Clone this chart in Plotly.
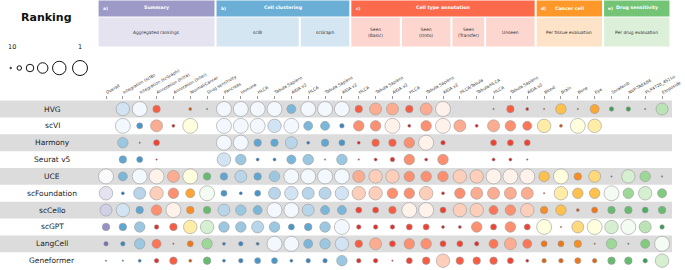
import plotly.graph_objects as go
from plotly.colors import sequential, sample_colorscale

N = None
methods = ["HVG", "scVI", "Harmony", "Seurat v5", "UCE", "scFoundation",
           "scCello", "scGPT", "LangCell", "Geneformer"]
columns = ["Overall", "Integration (scIB)", "Integration (scGraph)", "Annotation (Intra)",
           "Annotation (Inter)", "Normal/Cancer", "Drug sensitivity",
           "Pancreas", "Immune", "HLCA", "Tabula Sapiens", "AIDA v2",
           "HLCA", "Tabula Sapiens", "AIDA v2",
           "HLCA", "Tabula Sapiens", "AIDA v2",
           "HLCA", "Tabula Sapiens", "AIDA v2",
           "HLCA/Tabula", "Tabula/HLCA",
           "HLCA", "Tabula Sapiens", "AIDA v2",
           "Blood", "Brain", "Bone", "Eye",
           "Sorafenib", "NVP-TAE684", "PLX4720_451Lu", "Etoposide"]
column_task = (["overall", "clustering", "clustering", "annotation", "annotation", "cancer", "drug"]
               + ["clustering"] * 8 + ["annotation"] * 11 + ["cancer"] * 4 + ["drug"] * 4)

rank_hvg = [N, 2, 1, 6, N, 9, 10, 1, 1, 1, 1, 5, 1, 1, 1, 6, 3, 3, 6, 3, 1, N, N, 10, 6, 9, 10, 4, 10, 5, 8, 8, 10, 3]
rank_scvi = [N, 1, 7, 3, 9, 1, N, 1, 1, 1, 2, 1, 5, 5, 8, 4, 4, 1, 9, 4, 1, 3, 9, 3, 4, 5, 2, 9, 1, 2, N, N, N, N]
rank_harmony = [N, 4, 10, 7, N, N, N, 1, 1, 6, 6, 3, 9, 6, 7, 9, 6, 6, 4, 1, 8, N, N, 7, 7, 7, N, N, N, N, N, N, N, N]
rank_seurat = [N, 6, 7, 10, N, N, N, 2, 4, 9, 9, 5, 4, 10, 4, 10, 9, 8, 4, 9, 4, N, N, 9, 9, 10, N, N, N, N, N, N, N, N]
rank_uce = [1, 5, 1, 1, 3, 1, 6, 6, 3, 6, 4, 1, 1, 1, 1, 3, 2, 2, 4, 4, 4, 2, 2, 1, 1, 1, 4, 1, 6, 3, 10, 2, 4, 10]
rank_scfoundation = [2, 9, 3, 2, 4, 5, 1, 7, 9, 7, 3, 2, 3, 3, 2, 2, 2, 4, 4, 2, 9, 4, 3, 3, 3, 3, 10, 2, 4, 4, 1, 4, 2, 5]
rank_sccello = [3, 2, 6, 4, 1, 6, 6, 3, 4, 5, 1, 1, 3, 5, 5, 7, 7, 6, 1, 1, 7, 2, 2, 5, 4, 2, 6, 4, 9, 7, 6, 6, 7, 6]
rank_scgpt = [6, 6, 4, 8, 6, 2, 2, 4, 4, 3, 4, 7, 6, 4, 1, 8, 8, 8, 7, 7, 9, 9, 4, 7, 4, 7, 1, 10, 3, 1, 2, 1, 3, 8]
rank_langcell = [8, 8, 4, 5, 10, 7, 4, 9, 8, 9, 1, 1, 5, 4, 2, 6, 3, 7, 4, 4, 7, 7, 8, 5, 3, 5, 7, 7, 6, 10, 4, 10, 5, 1]
rank_geneformer = [10, 10, 9, 8, 6, 9, 6, 9, 8, 7, 7, 9, 8, 8, 4, 8, 8, 10, 7, 6, 2, 6, 6, 6, 7, 9, 8, 8, 7, 8, 6, 6, 8, 2]

ranks = [rank_hvg, rank_scvi, rank_harmony, rank_seurat, rank_uce, rank_scfoundation,
         rank_sccello, rank_scgpt, rank_langcell, rank_geneformer]

group_titles = ["Summary", "Cell clustering", "Cell type annotation", "Cancer cell", "Drug sensitivity"]
group_letters = ["a)", "b)", "c)", "d)", "e)"]
group_spans = [(0, 6), (7, 14), (15, 25), (26, 29), (30, 33)]
sub_titles = ["Aggregated rankings", "scIB", "scGraph", "Seen<br>(Basic)", "Seen<br>(Onto)",
              "Seen<br>(Transfer)", "Unseen", "Per tissue evaluation", "Per drug evaluation"]
sub_spans = [(0, 6), (7, 11), (12, 14), (15, 17), (18, 20), (21, 22), (23, 25), (26, 29), (30, 33)]
sub_group = [0, 1, 1, 2, 2, 2, 2, 3, 4]

legend_ranks = [10, 8, 6, 4, 2, 1]
legend_px = [10.7, 19.3, 30, 42.7, 59.3, 80]

# ---------------- styling ----------------
FONT = "DejaVu Sans"
W, H = 685, 270
TOP = 100
COL0, STEP = 106.0, 16.85
ROW0 = 109.0
PX_PER_RANK = 1.5
head_colors = ["#9e9ac8", "#6baed6", "#fb6a4a", "#fe9929", "#74c476"]
sub_colors = ["#e5e3f0", "#d5e6f3", "#fdd7cf", "#fee3c8", "#dcefd8"]
task_seq = {"overall": sequential.Purples, "clustering": sequential.Blues,
            "annotation": sequential.Reds, "cancer": sequential.YlOrBr,
            "drug": sequential.Greens}


def cscale(seq):
    out = []
    for k in range(21):
        v = k / 20
        t = 0.02 + 0.78 * v ** 0.7
        out.append([v, sample_colorscale(seq, [t])[0]])
    return out


def py2paper(py):
    return (H - py) / (H - TOP)


x_lo = -COL0 / STEP
x_hi = x_lo + W / STEP
y_top = -(ROW0 - TOP) / STEP
y_bot = y_top + (H - TOP) / STEP

fig = go.Figure()

for task, seq in task_seq.items():
    xs, ys, cs = [], [], []
    for j, row in enumerate(ranks):
        for i, r in enumerate(row):
            if r is None or column_task[i] != task:
                continue
            xs.append(i)
            ys.append(j)
            cs.append(r)
    fig.add_trace(go.Scatter(
        x=xs, y=ys, mode="markers", hoverinfo="skip", showlegend=False,
        marker=dict(size=[11 - r for r in cs], sizemode="diameter", sizeref=1 / PX_PER_RANK,
                    color=cs, cmin=1, cmax=10, colorscale=cscale(seq), showscale=False,
                    line=dict(color="#9a9a9a", width=0.6), opacity=1)))

shapes = []
annotations = []


def note(**kw):
    kw.setdefault("showarrow", False)
    kw.setdefault("xanchor", "center")
    kw.setdefault("yanchor", "middle")
    annotations.append(kw)


# size legend (pixel-sized circles)
for r, p in zip(legend_ranks, legend_px):
    d = PX_PER_RANK * (11 - r)
    shapes.append(dict(type="circle", xref="paper", yref="paper",
                       xsizemode="pixel", ysizemode="pixel",
                       xanchor=p / W, yanchor=py2paper(68),
                       x0=-d / 2, x1=d / 2, y0=-d / 2, y1=d / 2,
                       fillcolor="white", line=dict(color="#111111", width=1)))

# row bands
for j in range(0, len(methods), 2):
    shapes.append(dict(type="rect", xref="paper", yref="y", x0=0, x1=672 / W,
                       y0=j - 0.5, y1=j + 0.5, fillcolor="#dcdcdc", line=dict(width=0),
                       layer="below"))
# row labels
for j, m in enumerate(methods):
    note(xref="paper", yref="y", x=52 / W, y=j, text=m,
         font=dict(family=FONT, size=7.5, color="#222222"))

g = 0.06
for k, (a, b) in enumerate(group_spans):
    shapes.append(dict(type="rect", xref="x", yref="paper", x0=a - 0.5 + g, x1=b + 0.5 - g,
                       y0=py2paper(16.5), y1=py2paper(0.5), fillcolor=head_colors[k],
                       line=dict(width=0)))
    note(xref="x", yref="paper", x=a - 0.5 + 0.2, y=py2paper(8.5), xanchor="left",
         text="<b>" + group_letters[k] + "</b>", font=dict(family=FONT, size=4.3, color="white"))
    note(xref="x", yref="paper", x=(a + b) / 2, y=py2paper(8.5),
         text="<b>" + group_titles[k] + "</b>", font=dict(family=FONT, size=4.7, color="white"))
for k, (a, b) in enumerate(sub_spans):
    shapes.append(dict(type="rect", xref="x", yref="paper", x0=a - 0.5 + g, x1=b + 0.5 - g,
                       y0=py2paper(46.5), y1=py2paper(17.5), fillcolor=sub_colors[sub_group[k]],
                       line=dict(width=0)))
    note(xref="x", yref="paper", x=(a + b) / 2, y=py2paper(32), text=sub_titles[k],
         font=dict(family=FONT, size=4.4, color="#333333"))

note(xref="paper", yref="paper", x=46 / W, y=py2paper(17), text="<b>Ranking</b>",
     font=dict(family=FONT, size=11, color="#111111"))
note(xref="paper", yref="paper", x=12.5 / W, y=py2paper(47), text="10",
     font=dict(family=FONT, size=6.5, color="#111111"))
note(xref="paper", yref="paper", x=80 / W, y=py2paper(47), text="1",
     font=dict(family=FONT, size=6.5, color="#111111"))

fig.update_layout(
    width=W, height=H, margin=dict(l=0, r=0, t=TOP, b=0, autoexpand=False),
    paper_bgcolor="white", plot_bgcolor="white",
    font=dict(family=FONT),
    shapes=shapes, annotations=annotations,
    xaxis=dict(range=[x_lo, x_hi], side="top", tickmode="array",
               tickvals=list(range(len(columns))), ticktext=columns, tickangle=-30,
               ticks="outside", ticklen=3, tickwidth=0.6, tickcolor="#555555",
               tickfont=dict(family=FONT, size=4.2, color="#333333"), automargin=False,
               showgrid=False, zeroline=False, showline=False, fixedrange=True),
    yaxis=dict(range=[y_bot, y_top], visible=False, showgrid=False, zeroline=False,
               fixedrange=True, automargin=False),
)

fig.write_html("out.html", config={"displayModeBar": False, "staticPlot": True},
               post_script="document.body.style.margin='0px';")
